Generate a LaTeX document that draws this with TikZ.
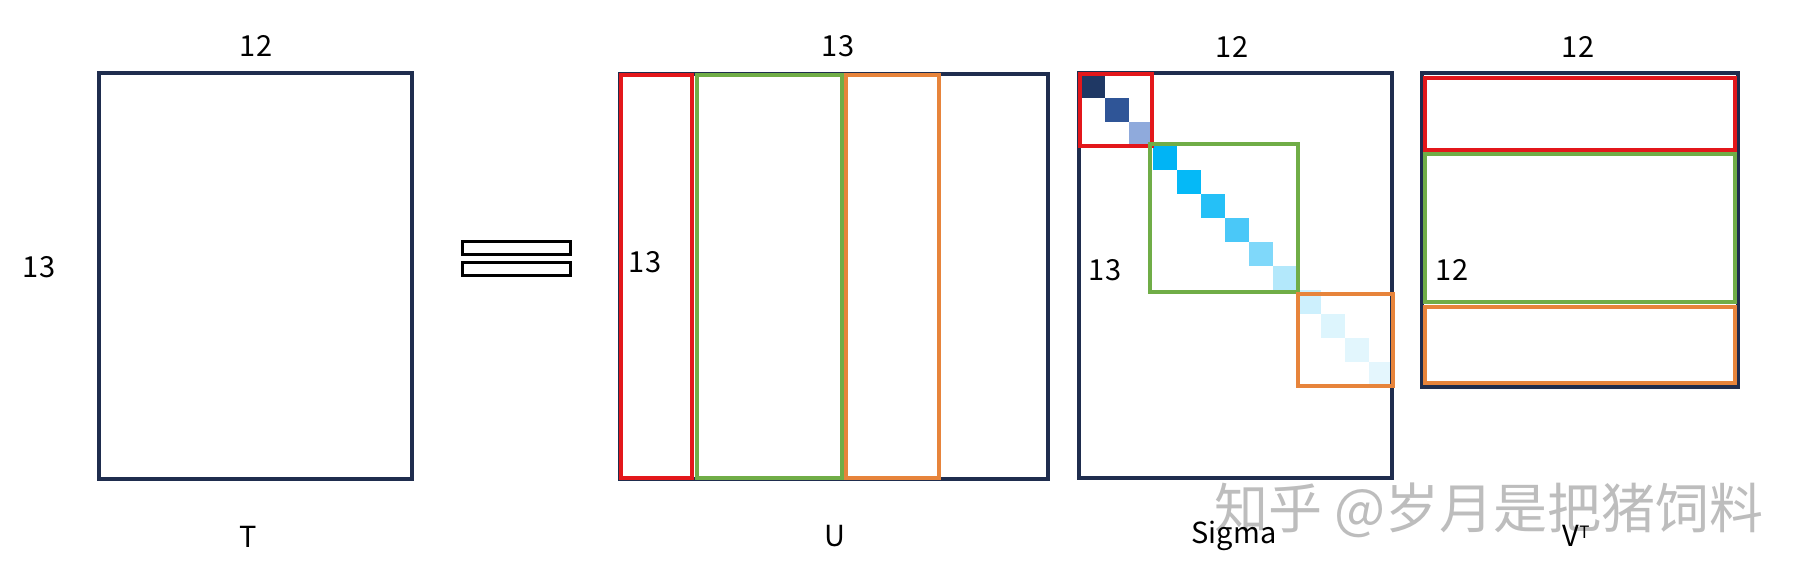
\documentclass[tikz,border=0pt]{standalone}
\usepackage{fontspec}
\setmainfont{Noto Sans CJK SC}
\newfontfamily\cjk{Noto Sans CJK SC}
\definecolor{navy}{HTML}{1F2D4E}
\definecolor{myred}{HTML}{E3171B}
\definecolor{mygreen}{HTML}{70AD47}
\definecolor{myorange}{HTML}{E7843B}
\definecolor{wm}{HTML}{BDBDBD}
\definecolor{s0}{HTML}{1F3864}
\definecolor{s1}{HTML}{2F5597}
\definecolor{s2}{HTML}{8FAADC}
\definecolor{s3}{HTML}{00B4F5}
\definecolor{s4}{HTML}{05B9F7}
\definecolor{s5}{HTML}{25C0F7}
\definecolor{s6}{HTML}{4AC8F8}
\definecolor{s7}{HTML}{7FD8FA}
\definecolor{s8}{HTML}{B3E8FB}
\definecolor{s9}{HTML}{CDF0FD}
\definecolor{s10}{HTML}{DDF5FD}
\definecolor{s11}{HTML}{E2F6FD}
\definecolor{s12}{HTML}{E4F6FD}
\begin{document}
\begin{tikzpicture}[x=1pt,y=-1pt,
  frame/.style={draw=navy,line width=4pt},
  redbox/.style={draw=myred,line width=4.5pt},
  greenbox/.style={draw=mygreen,line width=4.5pt},
  orangebox/.style={draw=myorange,line width=4.5pt},
  lbl/.style={font=\fontsize{29}{30}\selectfont,inner sep=0pt,text=black},
  eqbar/.style={draw=black,line width=3pt,fill=white}]
\useasboundingbox[fill=white] (0,0) rectangle (1805,577);
% T
\draw[frame] (99,73) rectangle (412,479);
\node[lbl] (t12) at (256,46) {12};
\node[lbl] (t13) at (39,267) {13};
\node[lbl] (tT) at (248,537) {T};
% equals
\draw[eqbar] (462,242) rectangle (570,255);
\draw[eqbar] (462,263) rectangle (570,276);
% U
\draw[frame] (620,74) rectangle (1048,479);
\draw[redbox] (621,75) rectangle (692,478);
\draw[greenbox] (697,75) rectangle (842,478);
\draw[orangebox] (846,75) rectangle (939,478);
\node[lbl] (u13a) at (838,46) {13};
\node[lbl] (u13b) at (645,262) {13};
\node[lbl] (uU) at (835,536) {U};
% Sigma
\foreach \i in {0,...,12}{
  \fill[s\i] ({1081+24*\i},{74+24*\i}) rectangle ++(24,24);
}
\draw[frame] (1079,73) rectangle (1392,478);
\draw[redbox] (1080,74) rectangle (1152,146);
\draw[greenbox] (1150,144) rectangle (1298,292);
\draw[orangebox] (1298,294) rectangle (1393,386);
\node[lbl] (s12) at (1232,47) {12};
\node[lbl] (s13) at (1105,270) {13};
% watermark
\node[font=\cjk\fontsize{54}{54}\selectfont,text=wm,inner sep=0pt,anchor=west] (wm) at (1214,510) {知乎 @岁月是把猪饲料};
\node[lbl] (sS) at (1234,536) {Sigma};
% V^T
\draw[frame] (1422,73) rectangle (1738,387);
\draw[redbox] (1425,78) rectangle (1735,150);
\draw[greenbox] (1425,154) rectangle (1735,302);
\draw[orangebox] (1425,307) rectangle (1735,383);
\node[lbl] (v12a) at (1578,47) {12};
\node[lbl] (v12b) at (1452,270) {12};
\node[lbl] (vV) at (1576,536) {V\raisebox{0.5ex}{\fontsize{17}{17}\selectfont T}};
\end{tikzpicture}
\end{document}
